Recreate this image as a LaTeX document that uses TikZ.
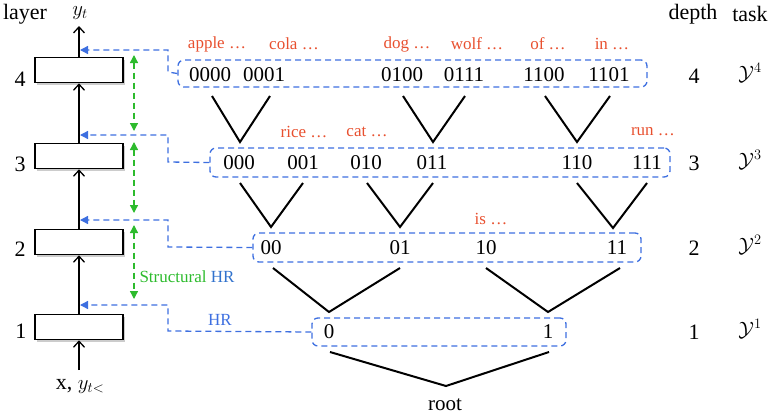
\documentclass[tikz,border=0pt]{standalone}
\usepackage{fontspec}
\setmainfont{Liberation Serif}
\usetikzlibrary{shadows,arrows.meta}
\definecolor{hr}{HTML}{3D6FE0}
\definecolor{wd}{HTML}{E8502F}
\definecolor{sg}{HTML}{2DBB2D}
\begin{document}
\begin{tikzpicture}[x=1pt,y=-1pt,
  lay/.style={draw,line width=1.6pt,minimum width=88pt,minimum height=25pt,fill=white,drop shadow={opacity=0.4,shadow xshift=2pt,shadow yshift=-2pt}},
  up/.style={-{Straight Barb[length=6pt,width=11pt]},line width=1.3pt},
  hrl/.style={hr,dash pattern=on 6pt off 4pt,line width=1.3pt},
  hra/.style={hrl,-{Triangle[length=8pt,width=8pt]}},
  grp/.style={draw=hr,dash pattern=on 6pt off 4pt,line width=1.3pt,rounded corners=6pt},
  sa/.style={sg,dash pattern=on 6pt off 4pt,line width=1.3pt,{Triangle[length=8pt,width=8pt]}-{Triangle[length=8pt,width=8pt]}},
  code/.style={font=\fontsize{21}{21}\selectfont},
  word/.style={wd,font=\fontsize{17}{17}\selectfont},
  br/.style={line width=2pt},
  big/.style={font=\fontsize{22}{22}\selectfont}]
\useasboundingbox (0,0) rectangle (776,416);
% layers
\node[lay] (L1) at (79,327) {};
\node[lay] (L2) at (79,242) {};
\node[lay] (L3) at (79,156) {};
\node[lay] (L4) at (79,70) {};
\node[big] (yt) at (80,13) {$y_t$};
\node[big] (xin) at (80,386) {x, $y_{t<}$};
\coordinate (inb) at (79,370);
\coordinate (ytb) at (79,26);
\draw[up] (inb) -- (L1);
\draw[up] (L1) -- (L2);
\draw[up] (L2) -- (L3);
\draw[up] (L3) -- (L4);
\draw[up] (L4) -- (ytb);
\node[big] (layer) at (25,14) {layer};
\node[big] (n4) at (20,79) {4};
\node[big] (n3) at (20,164) {3};
\node[big] (n2) at (20,249) {2};
\node[big] (n1) at (21,331) {1};
% groups
\node[grp,minimum width=469pt,minimum height=27pt] (G4) at (412.5,73.5) {};
\node[grp,minimum width=460pt,minimum height=29pt] (G3) at (440,162.5) {};
\node[grp,minimum width=388pt,minimum height=29pt] (G2) at (447,247.5) {};
\node[grp,minimum width=254pt,minimum height=28pt] (G1) at (439,332) {};
% HR connectors
\coordinate (h4) at (80,50); \coordinate (h3) at (80,135); \coordinate (h2) at (80,220); \coordinate (h1) at (80,305);
\draw[hra] (G4.west) -- (168,72) -- (168,50) -- (h4);
\draw[hra] (G3.west) -- (168,162) -- (168,135) -- (h3);
\draw[hra] (G2.west) -- (168,247) -- (168,220) -- (h2);
\draw[hra] (G1.west) -- (168,331) -- (168,305) -- (h1);
\node[hr,font=\fontsize{17}{17}\selectfont] (hrlab) at (220,320) {HR};
% structural
\coordinate (s1) at (134,55); \coordinate (s2) at (134,131);
\coordinate (s3) at (134,142); \coordinate (s4) at (134,213);
\coordinate (s5) at (134,225); \coordinate (s6) at (134,299);
\draw[sa] (s1) -- (s2);
\draw[sa] (s3) -- (s4);
\draw[sa] (s5) -- (s6);
\node[anchor=west,font=\fontsize{17}{17}\selectfont] (shr) at (136,277) {\textcolor{sg}{Structural} \textcolor{hr!80!teal}{HR}};
% codes
\node[code] (c0000) at (210,75) {0000};
\node[code] (c0001) at (264,75) {0001};
\node[code] (c0100) at (402,75) {0100};
\node[code] (c0111) at (464,75) {0111};
\node[code] (c1100) at (544,75) {1100};
\node[code] (c1101) at (609,75) {1101};
\node[code] (c000) at (239,163) {000};
\node[code] (c001) at (303,163) {001};
\node[code] (c010) at (366,163) {010};
\node[code] (c011) at (432,163) {011};
\node[code] (c110) at (577,163) {110};
\node[code] (c111) at (647,163) {111};
\node[code] (c00) at (271,248) {00};
\node[code] (c01) at (400,248) {01};
\node[code] (c10) at (486,248) {10};
\node[code] (c11) at (617,248) {11};
\node[code] (c0) at (329,332) {0};
\node[code] (c1) at (548,332) {1};
\node[code] (root) at (445,405) {root};
% words
\node[word] (w1) at (217,44) {apple \dots};
\node[word] (w2) at (294,44) {cola \dots};
\node[word] (w3) at (407,44) {dog \dots};
\node[word] (w4) at (477,44) {wolf \dots};
\node[word] (w5) at (548,44) {of \dots};
\node[word] (w6) at (612,44) {in \dots};
\node[word] (w7) at (304,132) {rice \dots};
\node[word] (w8) at (367,132) {cat \dots};
\node[word] (w9) at (653,132) {run \dots};
\node[word] (w10) at (491,219) {is \dots};
% branches
\draw[br] (212,96) -- (240,142) -- (270,96);
\draw[br] (403,96) -- (433,142) -- (465,96);
\draw[br] (545,96) -- (577,142) -- (610,96);
\draw[br] (240,183) -- (271,227) -- (303,183);
\draw[br] (367,183) -- (400,227) -- (433,183);
\draw[br] (577,183) -- (613,228) -- (647,183);
\draw[br] (273,268) -- (329,312) -- (400,268);
\draw[br] (486,268) -- (548,312) -- (620,268);
\draw[br] (330,352) -- (446,386) -- (549,352);
% depth / task
\node[big] (dep) at (693,14) {depth};
\node[big] (task) at (750,14) {task};
\node[big] (d4) at (694,76) {4};
\node[big] (d3) at (694,163) {3};
\node[big] (d2) at (694,248) {2};
\node[big] (d1) at (694,332) {1};
\node[big] (t4) at (750,73) {$\mathcal{Y}^4$};
\node[big] (t3) at (750,160) {$\mathcal{Y}^3$};
\node[big] (t2) at (750,245) {$\mathcal{Y}^2$};
\node[big] (t1) at (750,329) {$\mathcal{Y}^1$};
\end{tikzpicture}
\end{document}
